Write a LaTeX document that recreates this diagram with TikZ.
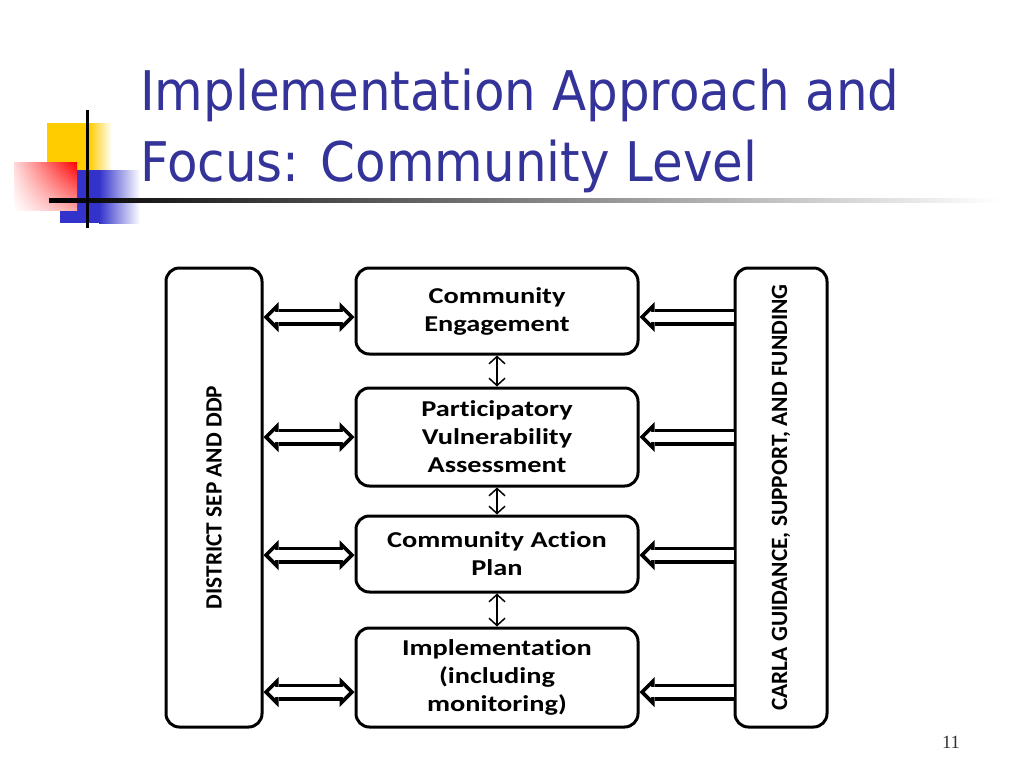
\documentclass[tikz,border=0pt]{standalone}
\usepackage{fontspec}
\setmainfont{Carlito}
\newfontfamily\titlefont[FakeStretch=0.913]{DejaVu Sans}
\newfontfamily\boxfont[FakeStretch=1.25, Ligatures=NoCommon]{Carlito}
\newfontfamily\sidefont[Ligatures=NoCommon]{Carlito}
\newfontfamily\numfont{Liberation Serif}
\usetikzlibrary{positioning, arrows.meta, calc, shadings}

\definecolor{titleblue}{RGB}{51,51,153}
\definecolor{logoyellow}{RGB}{255,204,0}
\definecolor{logoblue}{RGB}{51,51,204}

\tikzset{
  bigtip/.tip={Triangle[length=11.25pt, width=22.5pt, line width=0pt]},
  smalltip/.tip={Triangle[length=4.6pt, width=9.2pt, line width=0pt]},
  stage/.style={draw, line width=2.25pt, rounded corners=10pt, minimum width=211.5pt,
    align=center, font=\boxfont\bfseries\fontsize{17}{21}\selectfont},
  side/.style={draw, line width=2.25pt, rounded corners=10pt, rotate=90,
    minimum width=344.25pt, font=\sidefont\bfseries\fontsize{17.5}{20}\selectfont},
  fatboth/.style={draw=white, line width=6.9pt, {smalltip}-{smalltip},
    shorten <=4.1pt, shorten >=4.1pt,
    preaction={draw=black, line width=12.75pt, shorten <=0pt, shorten >=0pt, {bigtip}-{bigtip}}},
  fatone/.style={draw=white, line width=6.9pt, -{smalltip}, shorten >=4.1pt,
    preaction={draw=black, line width=12.75pt, shorten >=0pt, -{bigtip}}},
  thinboth/.style={line width=1.1pt, {Straight Barb[length=5.5pt, width=12pt]}-{Straight Barb[length=5.5pt, width=12pt]}}
}

\begin{document}
\begin{tikzpicture}[x=0.75pt, y=-0.75pt]
  \useasboundingbox (0,0) rectangle (1024,768);

  % logo
  \fill[logoyellow] (47,123) rectangle (90,186);
  \shade[left color=logoyellow, right color=white] (89,123) rectangle (112,186);
  \fill[logoblue] (60,170) rectangle (100,223);
  \shade[left color=logoblue, right color=white] (99,170) rectangle (140,223);
  \shade[upper right=red, upper left=red!15, lower right=red!35, lower left=white] (14,162) rectangle (77,210);
  \shade[left color=black, middle color=black!40, right color=white] (49,198.5) rectangle (1000,202.5);
  \draw[line width=2.25pt] (87,110) -- (87,228);

  % title
  \node[anchor=base west, inner sep=0pt, text=titleblue, font=\titlefont\fontsize{41}{50}\selectfont] (t1) at (140,110) {Implementation Approach and};
  \node[anchor=base west, inner sep=0pt, text=titleblue, font=\titlefont\fontsize{41}{50}\selectfont] (t2) at (140,181) {Focus: Community Level};

  % side bars
  \node[side, minimum height=72pt] (dist) at (214,497.5) {DISTRICT SEP AND DDP};
  \node[side, minimum height=69pt] (fund) at (781,497.5) {CARLA GUIDANCE, SUPPORT, AND FUNDING};

  % stages
  \node[stage, minimum height=64.5pt] (eng) at (497,311) {Community\\Engagement};
  \node[stage, minimum height=73.5pt, below=23.25pt of eng] (pva) {Participatory\\Vulnerability\\Assessment};
  \node[stage, minimum height=57pt, below=20.25pt of pva] (cap) {Community Action\\Plan};
  \node[stage, minimum height=74.25pt, below=24.75pt of cap] (imp) {Implementation\\(including\\monitoring)};

  % connectors
  \foreach \b/\s in {eng/6, pva/0, cap/1, imp/14.5} {
    \coordinate (\b l) at ($(\b.west)+(0,\s)$);
    \coordinate (\b r) at ($(\b.east)+(0,\s)$);
    \draw[fatboth] (dist.south |- \b l) -- (\b l);
    \draw[fatone] (fund.north |- \b r) -- (\b r);
  }
  \draw[thinboth] (eng.south) -- (pva.north);
  \draw[thinboth] (pva.south) -- (cap.north);
  \draw[thinboth] (cap.south) -- (imp.north);

  \node[text=black!80, font=\numfont\fontsize{14}{16}\selectfont] (pg) at (951,742) {11};
\end{tikzpicture}
\end{document}
